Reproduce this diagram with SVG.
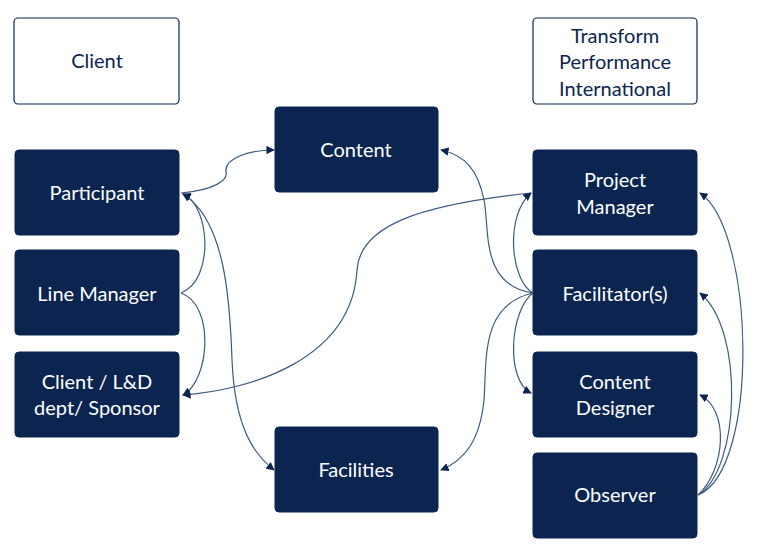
<svg xmlns="http://www.w3.org/2000/svg" width="768" height="550" viewBox="0 0 768 550">
<style>
.n{fill:#0b2550;stroke:#0b2550}
.w{fill:#fff;stroke:#0b2550;stroke-width:1.2}
text{font-family:Lato,"Liberation Sans",sans-serif;font-size:20px;text-anchor:middle}
.t{fill:#fff}.d{fill:#0b2550}
.c path{fill:none;stroke:#3d5a80;stroke-width:1.2}
</style>
<defs><marker id="a" viewBox="0 0 10 10" refX="9" refY="5" markerWidth="7" markerHeight="7" orient="auto-start-reverse"><path d="M0,0L10,5L0,10z" fill="#0b2550"/></marker></defs>
<g id="client"><rect class="w" x="14" y="18" width="165" height="86" rx="4"/><text class="d" x="97" y="68">Client</text></g>
<g id="tpi"><rect class="w" x="533" y="18" width="164" height="86" rx="4"/><text class="d" x="615" y="43">Transform</text><text class="d" x="615" y="69">Performance</text><text class="d" x="615" y="96">International</text></g>
<g id="participant"><rect class="n" x="15" y="150" width="164" height="85" rx="4"/><text class="t" x="97" y="200">Participant</text></g>
<g id="linemanager"><rect class="n" x="15" y="250" width="164" height="85" rx="4"/><text class="t" x="97" y="301">Line Manager</text></g>
<g id="sponsor"><rect class="n" x="15" y="352" width="164" height="85" rx="4"/><text class="t" x="97" y="389">Client / L&amp;D</text><text class="t" x="97" y="415">dept/ Sponsor</text></g>
<g id="content"><rect class="n" x="275" y="107" width="163" height="85" rx="4"/><text class="t" x="356" y="157">Content</text></g>
<g id="facilities"><rect class="n" x="275" y="427" width="163" height="85" rx="4"/><text class="t" x="356" y="477">Facilities</text></g>
<g id="pm"><rect class="n" x="533" y="150" width="164" height="85" rx="4"/><text class="t" x="615" y="187">Project</text><text class="t" x="615" y="214">Manager</text></g>
<g id="facilitator"><rect class="n" x="533" y="250" width="164" height="85" rx="4"/><text class="t" x="615" y="301">Facilitator(s)</text></g>
<g id="designer"><rect class="n" x="533" y="352" width="164" height="85" rx="4"/><text class="t" x="615" y="389">Content</text><text class="t" x="615" y="415">Designer</text></g>
<g id="observer"><rect class="n" x="533" y="453" width="164" height="85" rx="4"/><text class="t" x="615" y="502">Observer</text></g>
<g class="c">
<path d="M181,193C215,190 228,180 226,172C224,158 250,150 274,150" marker-end="url(#a)"/>
<path d="M181,293C215,280 210,205 183,194" marker-end="url(#a)"/>
<path d="M181,293C215,305 210,380 183,395" marker-end="url(#a)"/>
<path d="M183,194C225,220 230,300 232,360C235,430 255,455 274,470" marker-start="url(#a)" marker-end="url(#a)"/>
<path d="M531,193C420,205 360,225 357,270C352,360 250,390 183,395" marker-end="url(#a)"/>
<path d="M533,293C480,285 490,230 484,200C478,170 465,155 441,150" marker-end="url(#a)"/>
<path d="M533,293C510,280 505,215 531,193" marker-end="url(#a)"/>
<path d="M533,293C510,310 505,380 531,393" marker-end="url(#a)"/>
<path d="M533,293C480,305 487,360 484,400C480,440 465,460 441,470" marker-end="url(#a)"/>
<path d="M698,495C760,470 755,230 700,193" marker-end="url(#a)"/>
<path d="M698,495C740,470 745,330 700,293" marker-end="url(#a)"/>
<path d="M698,495C725,470 730,410 700,395" marker-end="url(#a)"/>
</g>
</svg>
